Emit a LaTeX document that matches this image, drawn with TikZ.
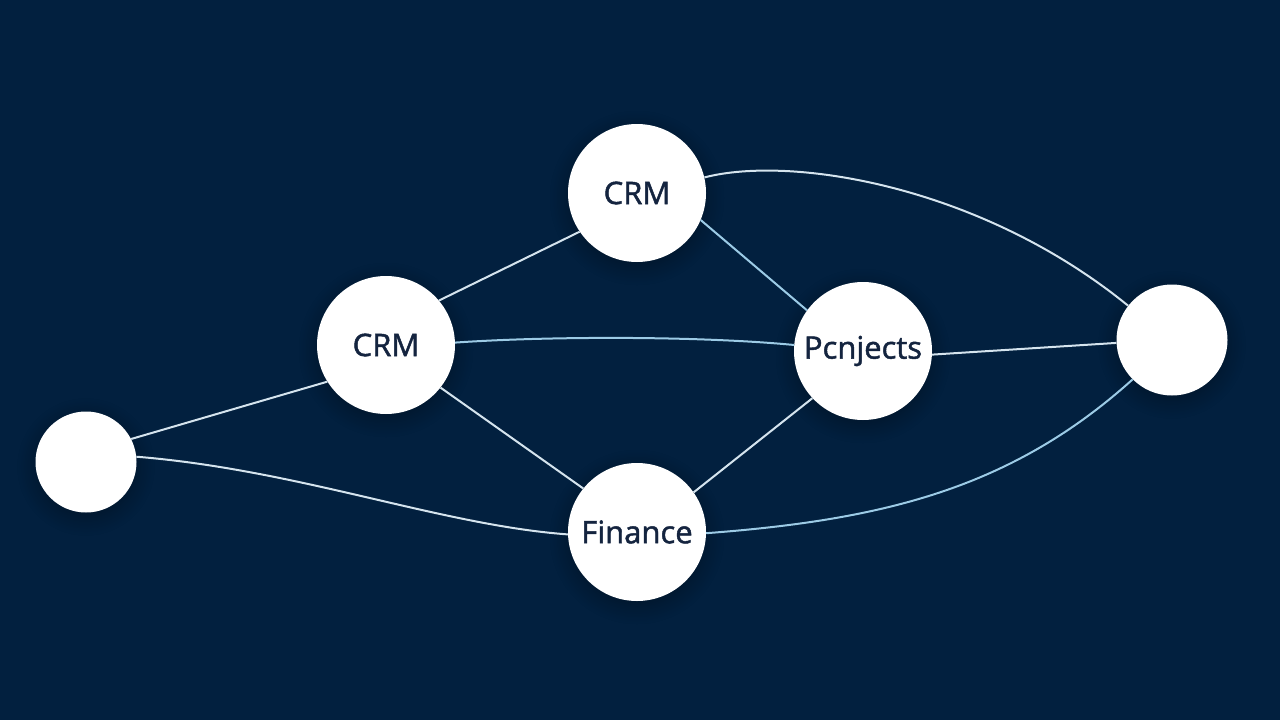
\documentclass[tikz,border=0pt]{standalone}
\usepackage{fontspec}
\setmainfont[BoldFont={Open Sans},BoldFeatures={FakeBold=1.5}]{Open Sans}
\usetikzlibrary{shadows.blur}
\definecolor{bg}{HTML}{02203F}
\definecolor{ink}{HTML}{14243F}
\definecolor{wline}{HTML}{D5E4EE}
\definecolor{bline}{HTML}{9CCBE6}
\begin{document}
\begin{tikzpicture}[x=1pt,y=-1pt,
 disc/.style={circle,fill=white,inner sep=0pt,text=ink,font=\fontsize{31}{36}\bfseries\selectfont,blur shadow={shadow blur steps=14,shadow xshift=0pt,shadow yshift=-5pt,shadow opacity=35,shadow blur radius=18pt}},
 wl/.style={draw=wline,line width=2pt},
 bl/.style={draw=bline,line width=2pt}]
\useasboundingbox (0,0) rectangle (1280,720);
\fill[bg] (0,0) rectangle (1280,720);
\node[disc,minimum size=138pt] (a) at (637,193) {CRM};
\node[disc,minimum size=138pt] (b) at (386,345) {CRM};
\node[disc,minimum size=138pt] (c) at (863,351) {Pcnjects};
\node[disc,minimum size=138pt] (d) at (637,532) {Finance};
\node[disc,minimum size=111pt] (e) at (1172,340) {};
\node[disc,minimum size=101pt] (f) at (86,462) {};
\draw[wl] (f.27.5) -- (b.212);
\draw[wl] (f.6) .. controls (300,470) and (440,525) .. (d.182);
\draw[wl] (b.40) -- (a.214);
\draw[bl] (b.2) .. controls (550,336) and (700,336) .. (c.175);
\draw[wl] (b.-38.5) -- (d.141.5);
\draw[bl] (a.-23) -- (c.144);
\draw[wl] (d.35) -- (c.223);
\draw[wl] (c.-3) -- (e.183);
\draw[wl] (a.13) .. controls (790,155) and (980,185) .. (e.142);
\draw[bl] (d.-1) .. controls (880,520) and (1010,490) .. (e.225);
\end{tikzpicture}
\end{document}
